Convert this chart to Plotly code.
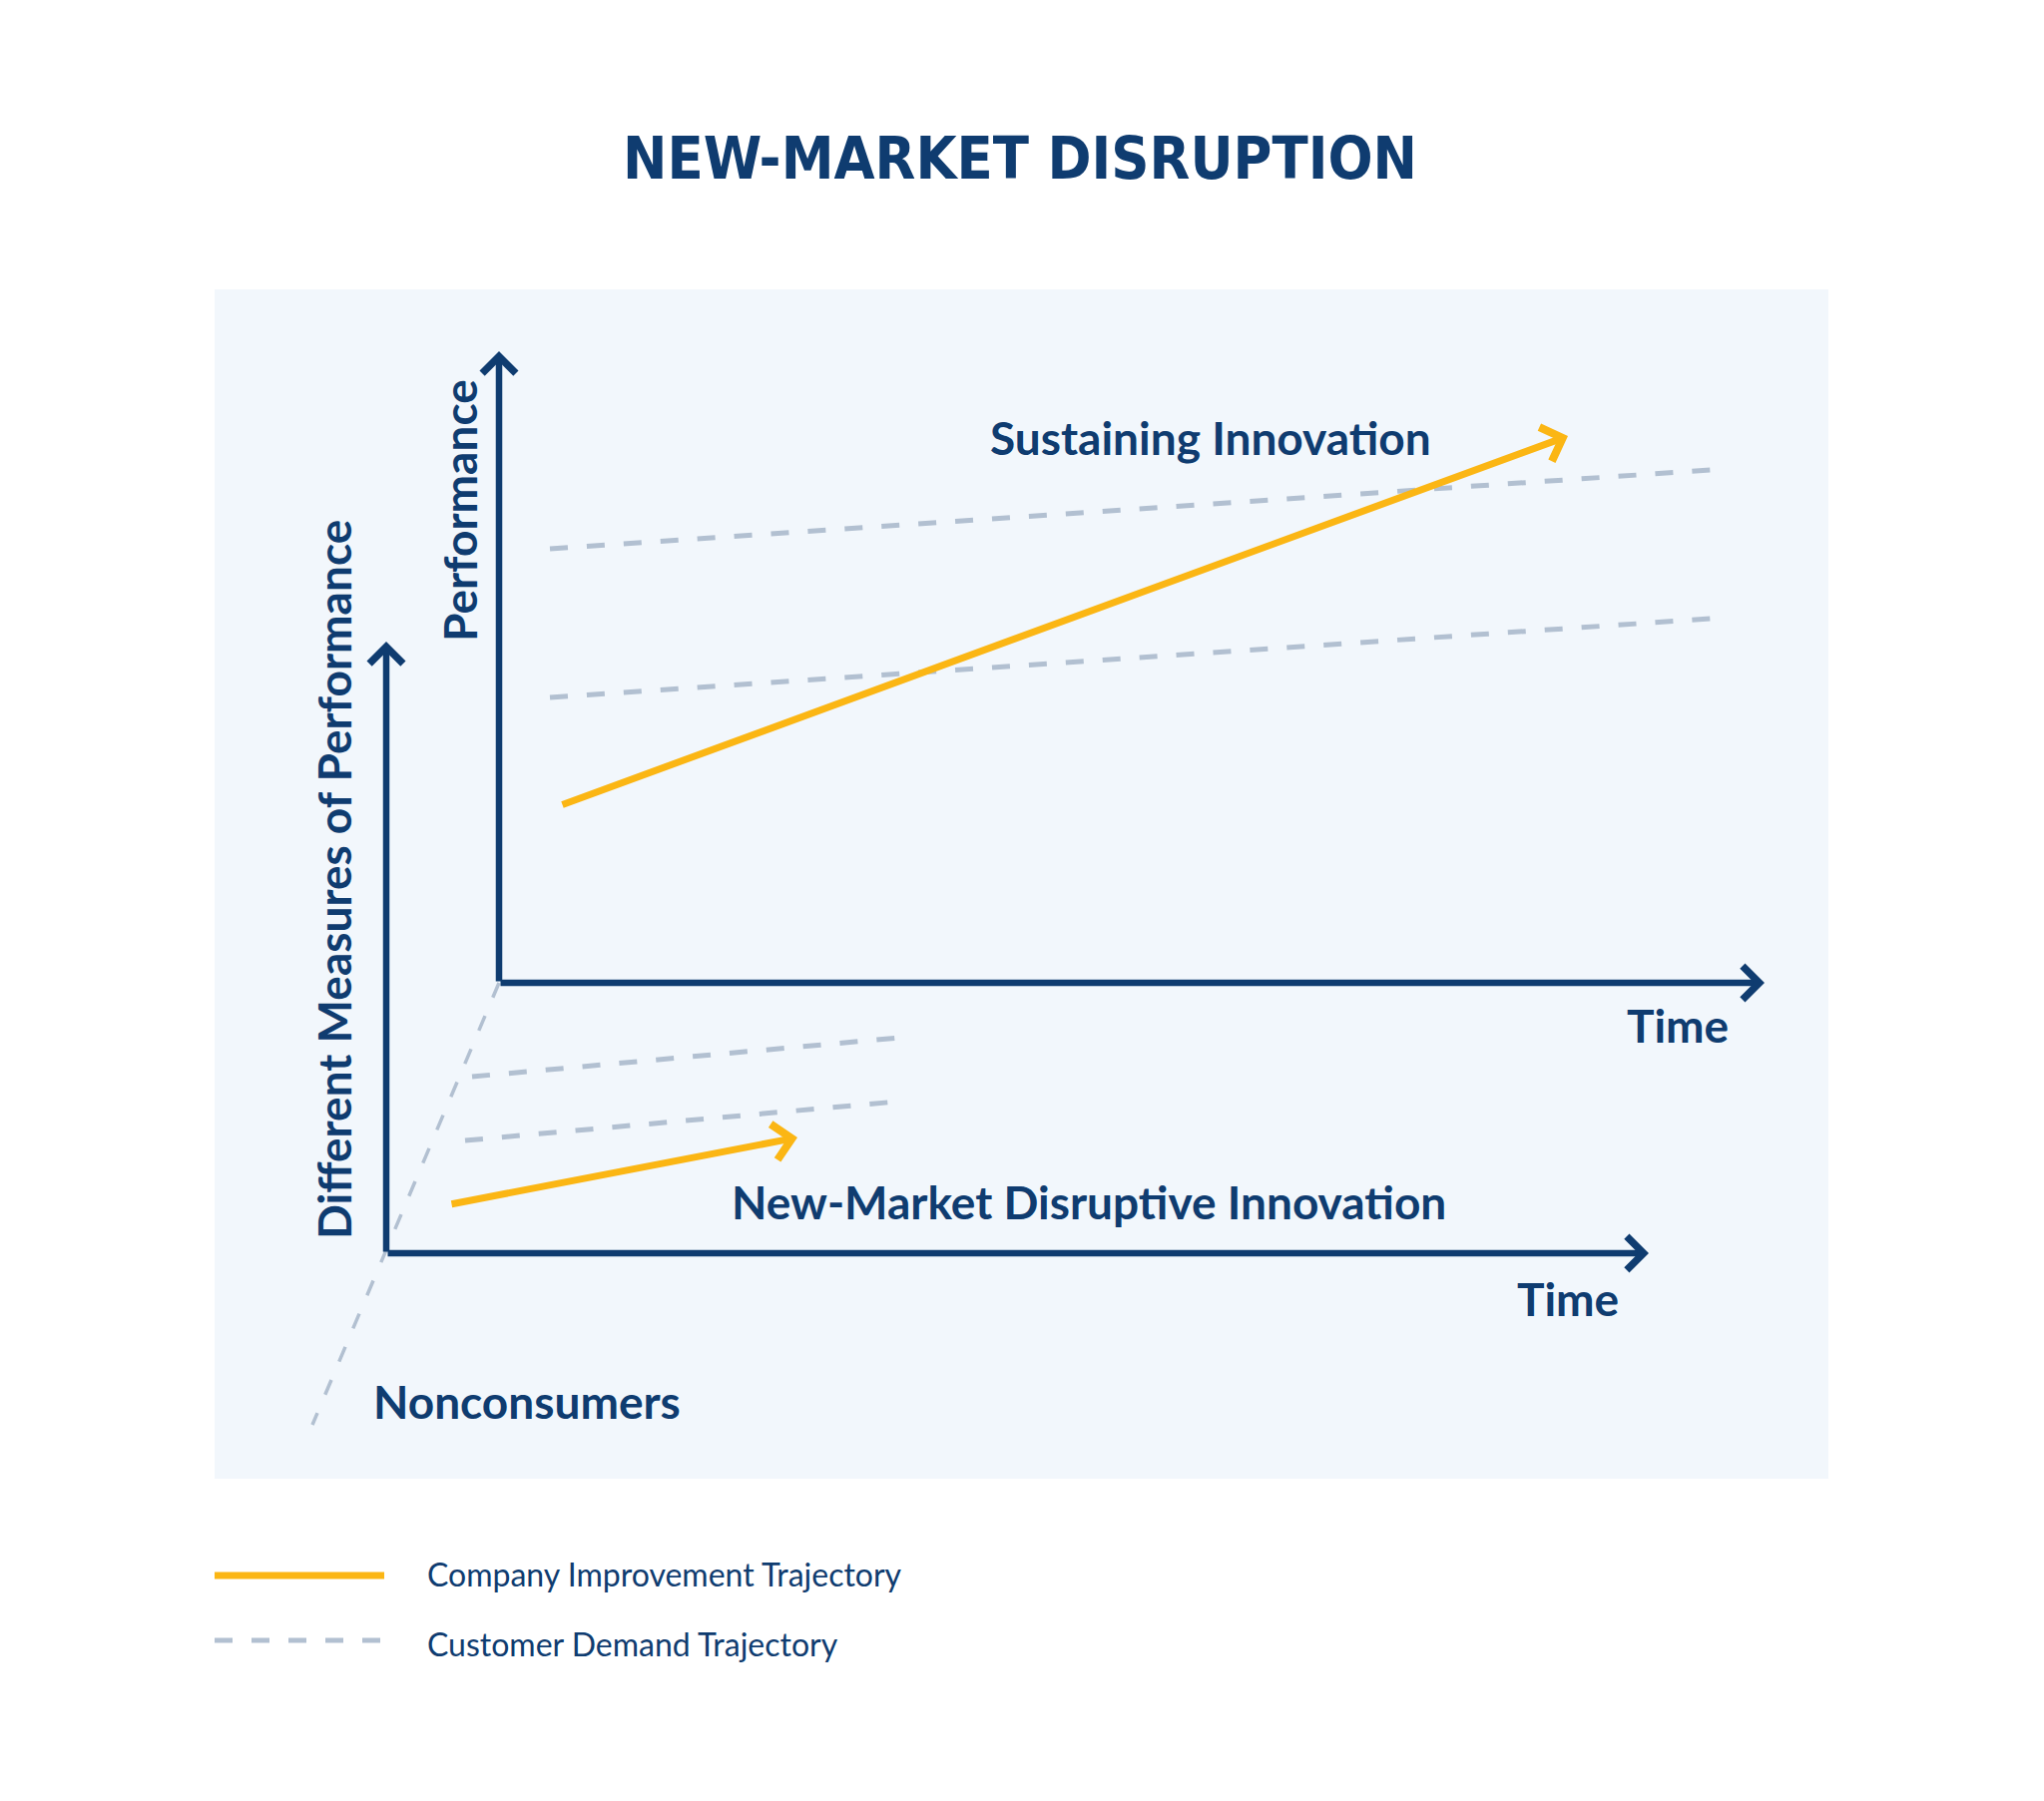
import plotly.graph_objects as go

# canvas is laid out in pixel units of the 2048x1805 picture
W, H = 2048, 1805
PAGE_OFFSET = 8  # default body margin of the html page

NAVY = '#0f3c70'
GOLD = '#fbb614'
GREY = '#b2c0d1'
PANEL = '#f2f7fc'

# axes (start point -> arrow tip)
upper_y_axis_x = [500, 500]
upper_y_axis_y = [985, 352]
upper_x_axis_x = [500, 1768]
upper_x_axis_y = [985, 985]
lower_y_axis_x = [387, 387]
lower_y_axis_y = [1256, 643]
lower_x_axis_x = [387, 1652]
lower_x_axis_y = [1256, 1256]

# depth axis toward nonconsumers
depth_x = [500, 313]
depth_y = [985, 1428]

# customer demand trajectories
sust_demand_hi_x = [551, 1715]
sust_demand_hi_y = [550, 471]
sust_demand_lo_x = [551, 1715]
sust_demand_lo_y = [699, 620]
nm_demand_hi_x = [473, 901]
nm_demand_hi_y = [1079, 1040]
nm_demand_lo_x = [466, 899]
nm_demand_lo_y = [1143, 1104]

# company improvement trajectories
sust_improve_x = [562, 1571]
sust_improve_y = [807, 437]
nm_improve_x = [451, 799]
nm_improve_y = [1207, 1140]

legend_labels = ['Company Improvement Trajectory', 'Customer Demand Trajectory']

fig = go.Figure()

# dashed demand lines
for xs, ys in [(sust_demand_hi_x, sust_demand_hi_y), (sust_demand_lo_x, sust_demand_lo_y),
               (nm_demand_hi_x, nm_demand_hi_y), (nm_demand_lo_x, nm_demand_lo_y)]:
    fig.add_trace(go.Scatter(x=xs, y=ys, mode='lines', showlegend=False, hoverinfo='skip',
                             line=dict(color=GREY, width=5, dash='18px,19px')))
fig.add_trace(go.Scatter(x=depth_x, y=depth_y, mode='lines', showlegend=False, hoverinfo='skip',
                         line=dict(color=GREY, width=3.5, dash='16px,20px')))

annotations = []


def arrow(xs, ys, color, width):
    annotations.append(dict(x=xs[1], y=ys[1], ax=xs[0], ay=ys[0], xref='x', yref='y',
                            axref='x', ayref='y', text='', showarrow=True, arrowhead=4,
                            arrowsize=1, arrowwidth=width, arrowcolor=color, standoff=0))


arrow(upper_y_axis_x, upper_y_axis_y, NAVY, 6.5)
arrow(upper_x_axis_x, upper_x_axis_y, NAVY, 6.5)
arrow(lower_y_axis_x, lower_y_axis_y, NAVY, 6.5)
arrow(lower_x_axis_x, lower_x_axis_y, NAVY, 6.5)
arrow(sust_improve_x, sust_improve_y, GOLD, 7)
arrow(nm_improve_x, nm_improve_y, GOLD, 7)


def label(txt, x, y, size, angle=0, xanchor='center', weight='bold', family='Lato'):
    annotations.append(dict(x=x, y=y, xref='x', yref='y', text=txt, showarrow=False,
                            textangle=angle, xanchor=xanchor, yanchor='middle',
                            font=dict(family=family, size=size, color=NAVY, weight=weight)))


label('NEW-MARKET DISRUPTION', 1022, 158, 59,
      family='Liberation Sans Narrow, DejaVu Sans Condensed, sans-serif')
label('Sustaining Innovation', 1213, 438, 46)
label('Performance', 460, 512, 46, angle=-90)
label('Different Measures of Performance', 334, 882, 46, angle=-90)
label('Time', 1681, 1027, 46)
label('Time', 1571, 1301, 46)
label('New-Market Disruptive Innovation', 1091, 1204, 46)
label('Nonconsumers', 372, 1404, 46, xanchor='left')
label(legend_labels[0], 426, 1577, 32, xanchor='left', weight='normal')
label(legend_labels[1], 426, 1647, 32, xanchor='left', weight='normal')

shapes = [
    dict(type='rect', xref='x', yref='y', x0=215, x1=1832, y0=290, y1=1482,
         fillcolor=PANEL, line=dict(width=0), layer='below'),
    dict(type='line', xref='x', yref='y', x0=215, x1=385, y0=1579, y1=1579,
         line=dict(color=GOLD, width=7)),
    dict(type='line', xref='x', yref='y', x0=215, x1=385, y0=1644, y1=1644,
         line=dict(color=GREY, width=5, dash='18px,19px')),
]

fig.update_layout(
    width=W, height=H,
    margin=dict(l=0, r=0, t=0, b=0),
    paper_bgcolor='white', plot_bgcolor='white',
    xaxis=dict(range=[PAGE_OFFSET, W + PAGE_OFFSET], visible=False, fixedrange=True),
    yaxis=dict(range=[H + PAGE_OFFSET, PAGE_OFFSET], visible=False, fixedrange=True),
    annotations=annotations,
    shapes=shapes,
)

fig.write_html('out.html')
